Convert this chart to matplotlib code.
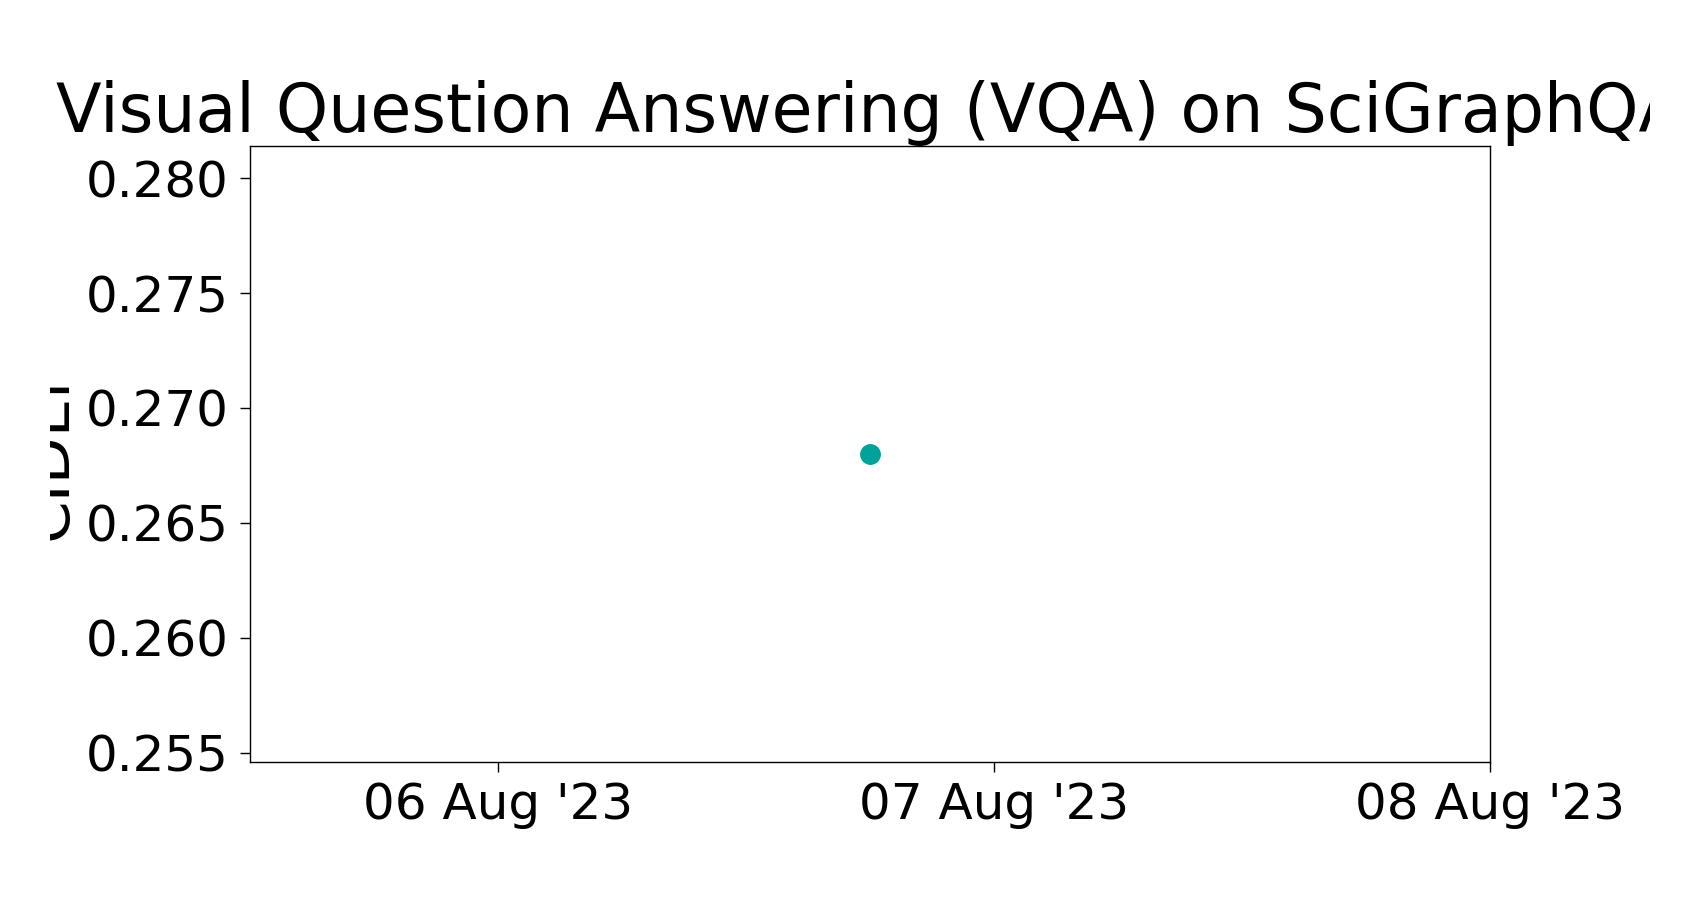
import matplotlib
matplotlib.use("Agg")
import matplotlib.pyplot as plt
import matplotlib.dates as mdates
from matplotlib.transforms import Bbox, TransformedBbox
from datetime import datetime

# Data
dates = [datetime(2023, 8, 6, 18, 0)]
cider = [0.268]
x_limits = [datetime(2023, 8, 5, 12, 0), datetime(2023, 8, 8, 0, 0)]
y_limits = [0.268 * 0.95, 0.268 * 1.05]
title = "Visual Question Answering (VQA) on SciGraphQA"
ylabel = "CIDEr"

plt.rcParams['font.family'] = ['DejaVu Sans']

fig = plt.figure(figsize=(17, 9), dpi=100)
ax = fig.add_axes([250/1700, (900-761.7)/900, 1240/1700, (761.7-146)/900])

ax.plot(dates, cider, 'o', color='#00a39a', markersize=14)

ax.set_xlim(x_limits)
ax.set_ylim(y_limits)
ax.xaxis.set_major_locator(mdates.DayLocator())
ax.xaxis.set_major_formatter(mdates.DateFormatter("%d %b '%y"))
ax.yaxis.set_major_locator(matplotlib.ticker.MultipleLocator(0.005))
ax.yaxis.set_major_formatter(matplotlib.ticker.FormatStrFormatter('%.3f'))

ax.tick_params(axis='both', labelsize=36, length=7.2, width=1.0)
ax.tick_params(axis='y', pad=8.3)
ax.tick_params(axis='x', pad=6.8)
for s in ax.spines.values():
    s.set_linewidth(1.0)

clip = TransformedBbox(Bbox([[50/1700, 0], [1650/1700, 1.0]]), fig.transFigure)

t = ax.set_title(title, fontsize=48, pad=0)
t.set_clip_box(clip)
t.set_clip_on(True)

lab = ax.set_ylabel(ylabel, fontsize=44)
ax.yaxis.set_label_coords((80 - 250) / 1240, 0.5)
lab.set_clip_box(clip)
lab.set_clip_on(True)

fig.savefig("out.png", dpi=100)
